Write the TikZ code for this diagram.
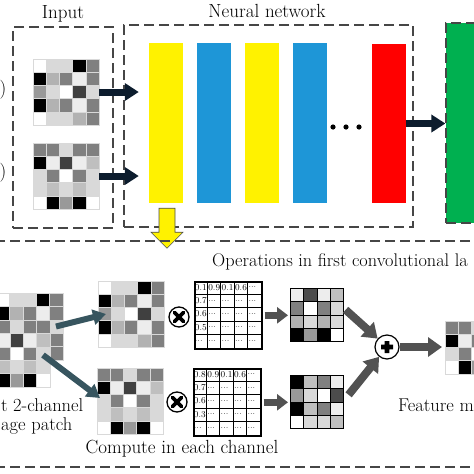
\documentclass[tikz,border=0pt]{standalone}
\usetikzlibrary{arrows.meta,positioning}

\definecolor{barblue}{RGB}{30,150,215}
\definecolor{bargreen}{RGB}{0,176,80}
\definecolor{navy}{RGB}{12,28,45}
\definecolor{slate}{RGB}{55,85,95}
\definecolor{boxline}{RGB}{70,70,70}

\newcommand{\kdots}{...}

% grey-level patch: name, x, y, cell, n, line colour, rows
\newcommand{\pixgrid}[7]{%
  \begin{scope}[shift={(#2,#3)}]
    \foreach \row [count=\rr from 0] in {#7} {
      \foreach \v [count=\cc from 0] in \row {
        \filldraw[fill=white!\v!black, draw=#6, line width=0.6pt] (\cc*#4,\rr*#4) rectangle ++(#4,#4);
      }
    }
  \end{scope}
  \node[inner sep=0, outer sep=0, minimum width=#5*#4, minimum height=#5*#4, anchor=north west] (#1) at (#2,#3) {};
}

% kernel table: name, x, y, rows
\newcommand{\kernel}[4]{%
  \begin{scope}[shift={(#2,#3)}]
    \foreach \row [count=\rr from 0] in {#4} {
      \foreach \t [count=\cc from 0] in \row {
        \draw[line width=0.8pt] (\cc*13.4,\rr*13.4) rectangle ++(13.4,13.4);
        \node[kval] at (\cc*13.4+0.7,\rr*13.4+6.2) {\t};
      }
    }
  \end{scope}
  \node[draw, line width=1.6pt, inner sep=0, minimum size=67pt, anchor=north west] (#1) at (#2,#3) {};
}

\begin{document}
\begin{tikzpicture}[x=1pt, y=-1pt,
    lbl/.style={font=\fontsize{19}{23}\selectfont, inner sep=0},
    kval/.style={anchor=west, inner sep=0, font=\fontsize{9}{9}\selectfont},
    dashbox/.style={draw=boxline, line width=1.2pt, dash pattern=on 10pt off 5pt, inner sep=0},
    bar/.style={minimum width=34pt, minimum height=160pt, inner sep=0},
    navyarr/.style={draw=navy, line width=7pt, -{Triangle[length=14pt, width=17pt]}},
    slatearr/.style={draw=slate, line width=6pt, -{Triangle[length=13pt, width=15pt]}},
    grayarr/.style={draw=black!68, line width=7pt, -{Triangle[length=11pt, width=16pt]}},
    sumarr/.style={draw=black!68, line width=8pt, -{Triangle[length=14pt, width=19pt]}},
    mul/.style={circle, draw, line width=1.3pt, minimum size=20pt, inner sep=0,
      path picture={\draw[line width=3.6pt, line cap=round]
        ([shift={(-4.5pt,-4.5pt)}]path picture bounding box.center) -- ([shift={(4.5pt,4.5pt)}]path picture bounding box.center)
        ([shift={(-4.5pt,4.5pt)}]path picture bounding box.center) -- ([shift={(4.5pt,-4.5pt)}]path picture bounding box.center);}},
    addn/.style={circle, draw, line width=1.2pt, minimum size=24pt, inner sep=0,
      path picture={\fill
        ([shift={(-6pt,-2.3pt)}]path picture bounding box.center) rectangle ([shift={(6pt,2.3pt)}]path picture bounding box.center)
        ([shift={(-2.3pt,-6pt)}]path picture bounding box.center) rectangle ([shift={(2.3pt,6pt)}]path picture bounding box.center);}}]
  \useasboundingbox (0,0) rectangle (474,474);

  % top: input and network
  \node[dashbox, minimum width=100pt, minimum height=201pt] (inbox) at (63,127.5) {};
  \node[dashbox, minimum width=289pt, minimum height=202pt] (nnbox) at (268.5,126) {};
  \node[lbl, anchor=base] (inlbl) at (63,18.5) {Input};
  \node[lbl, anchor=base] (nnlbl) at (267,17.5) {Neural network};
  \node[lbl, anchor=base] (capa) at (3,94) {)};
  \node[lbl, anchor=base] (capb) at (3,177) {)};

  \pixgrid{inA}{33}{59}{13.2}{5}{gray!30}{{100,85,85,0,50},{0,70,50,93,50},{60,85,100,25,85},{0,70,50,93,50},{100,85,85,70,50}}
  \pixgrid{inB}{33}{143}{13.2}{5}{gray!30}{{50,50,85,50,50},{0,93,25,93,75},{85,50,100,50,85},{85,75,85,75,85},{100,0,60,0,100}}

  \node[bar, fill=yellow] (l1) at (166,123) {};
  \node[bar, fill=barblue] (l2) at (213.5,123) {};
  \node[bar, fill=yellow] (l3) at (262,123) {};
  \node[bar, fill=barblue] (l4) at (310,123) {};
  \node[bar, fill=red, minimum height=159pt] (l5) at (388.5,123.5) {};
  \foreach \x in {333,346,359}
    \fill (\x,127) circle (2.6pt);
  \node[draw=boxline, dash pattern=on 10pt off 5pt, line width=1.2pt, fill=bargreen,
        minimum width=50pt, minimum height=200pt, inner sep=0] (cls) at (471,123) {};

  \draw[navyarr, shorten >=10pt] (inA.east) -- (inA.east -| l1.west);
  \draw[navyarr, shorten >=10pt] (inB.east) -- (inB.east -| l1.west);
  \draw[navyarr] (l5.east) -- (l5.east -| cls.west);

  \begin{scope}[shift={(l1.south)}]
    \draw[fill=yellow, draw=black!70, line width=0.6pt] (-7,5) -- (9,5) -- (9,29) -- (17,29) -- (1,45) -- (-15,29) -- (-7,29) -- cycle;
  \end{scope}

  % bottom: first convolutional layer
  \draw[dashbox] (-5,241) -- (480,241);
  \draw[dashbox] (-5,467) -- (480,467);
  \node[lbl, font=\fontsize{18.3}{22}\selectfont, anchor=base west] (oplbl) at (212,266) {Operations in first convolutional la};

  \pixgrid{patchA}{-4}{293}{13.4}{5}{gray!30}{{100,85,85,0,50},{0,70,50,93,50},{60,85,100,25,85},{0,70,50,93,50},{100,85,85,70,50}}
  \pixgrid{patchB}{-17}{320}{13.4}{5}{gray!30}{{50,50,85,50,50},{0,93,25,93,75},{85,50,100,50,85},{85,75,85,75,85},{100,0,60,0,100}}
  \node[lbl, font=\fontsize{18.5}{22}\selectfont, anchor=base east] (patchlbl) at (83.5,411) {t 2-channel};
  \node[lbl, font=\fontsize{18.5}{22}\selectfont, anchor=base east] (patchlbl2) at (72.5,430) {age patch};

  \pixgrid{chA}{98}{281}{13.2}{5}{gray!30}{{100,85,85,0,50},{0,70,50,93,50},{60,85,100,25,85},{0,70,50,93,50},{100,85,85,70,50}}
  \pixgrid{chB}{97}{368}{13.2}{5}{gray!30}{{50,50,85,50,50},{0,93,25,93,75},{85,50,100,50,85},{85,75,85,75,85},{100,0,60,0,100}}
  \draw[slatearr] ([xshift=-7pt]patchA.east) -- ([xshift=8pt]chA.west);
  \draw[slatearr] ([shift={(-7pt,-35pt)}]patchB.north east) -- ([shift={(3pt,3pt)}]chB.west);

  \node[mul] (mulA) at (179,317) {};
  \node[mul] (mulB) at (177,402) {};
  \kernel{kerA}{194}{281}{{0.1,0.9,0.1,0.6,\kdots},{0.7,\kdots,\kdots,\kdots,\kdots},{0.6,\kdots,\kdots,\kdots,\kdots},{0.5,\kdots,\kdots,\kdots,\kdots},{\kdots,\kdots,\kdots,\kdots,\kdots}}
  \kernel{kerB}{193}{368}{{0.8,0.9,0.1,0.6,\kdots},{0.7,\kdots,\kdots,\kdots,\kdots},{0.6,\kdots,\kdots,\kdots,\kdots},{0.3,\kdots,\kdots,\kdots,\kdots},{\kdots,\kdots,\kdots,\kdots,\kdots}}
  \node[lbl, anchor=base] (cmplbl) at (182,453) {Compute in each channel};

  \pixgrid{outA}{290}{288}{13.4}{4}{black}{{93,30,93,75},{50,100,50,85},{70,85,70,85},{0,60,0,100}}
  \pixgrid{outB}{290}{375}{13.4}{4}{black}{{0,75,50,93},{60,85,100,30},{0,75,50,93},{100,85,85,75}}
  \draw[grayarr, shorten <=2pt, shorten >=2pt] (kerA.east) -- (kerA.east -| outA.west);
  \draw[grayarr, shorten <=2pt, shorten >=2pt] (kerB.east) -- (kerB.east -| outB.west);

  \node[addn] (sum) at (387,347) {};
  \draw[sumarr] ([shift={(2pt,5pt)}]outA.east) -- (sum);
  \draw[sumarr] ([shift={(5pt,7pt)}]outB.east) -- (sum);

  \pixgrid{feat}{445}{321}{13.2}{4}{gray!30}{{50,50,85,50},{0,93,50,93},{85,50,100,70},{100,0,60,85}}
  \draw[sumarr, shorten >=3pt] (sum) -- (sum -| feat.west);
  \node[lbl, font=\fontsize{18.5}{22}\selectfont, anchor=base west] (featlbl) at (398,411.5) {Feature m};
\end{tikzpicture}
\end{document}
